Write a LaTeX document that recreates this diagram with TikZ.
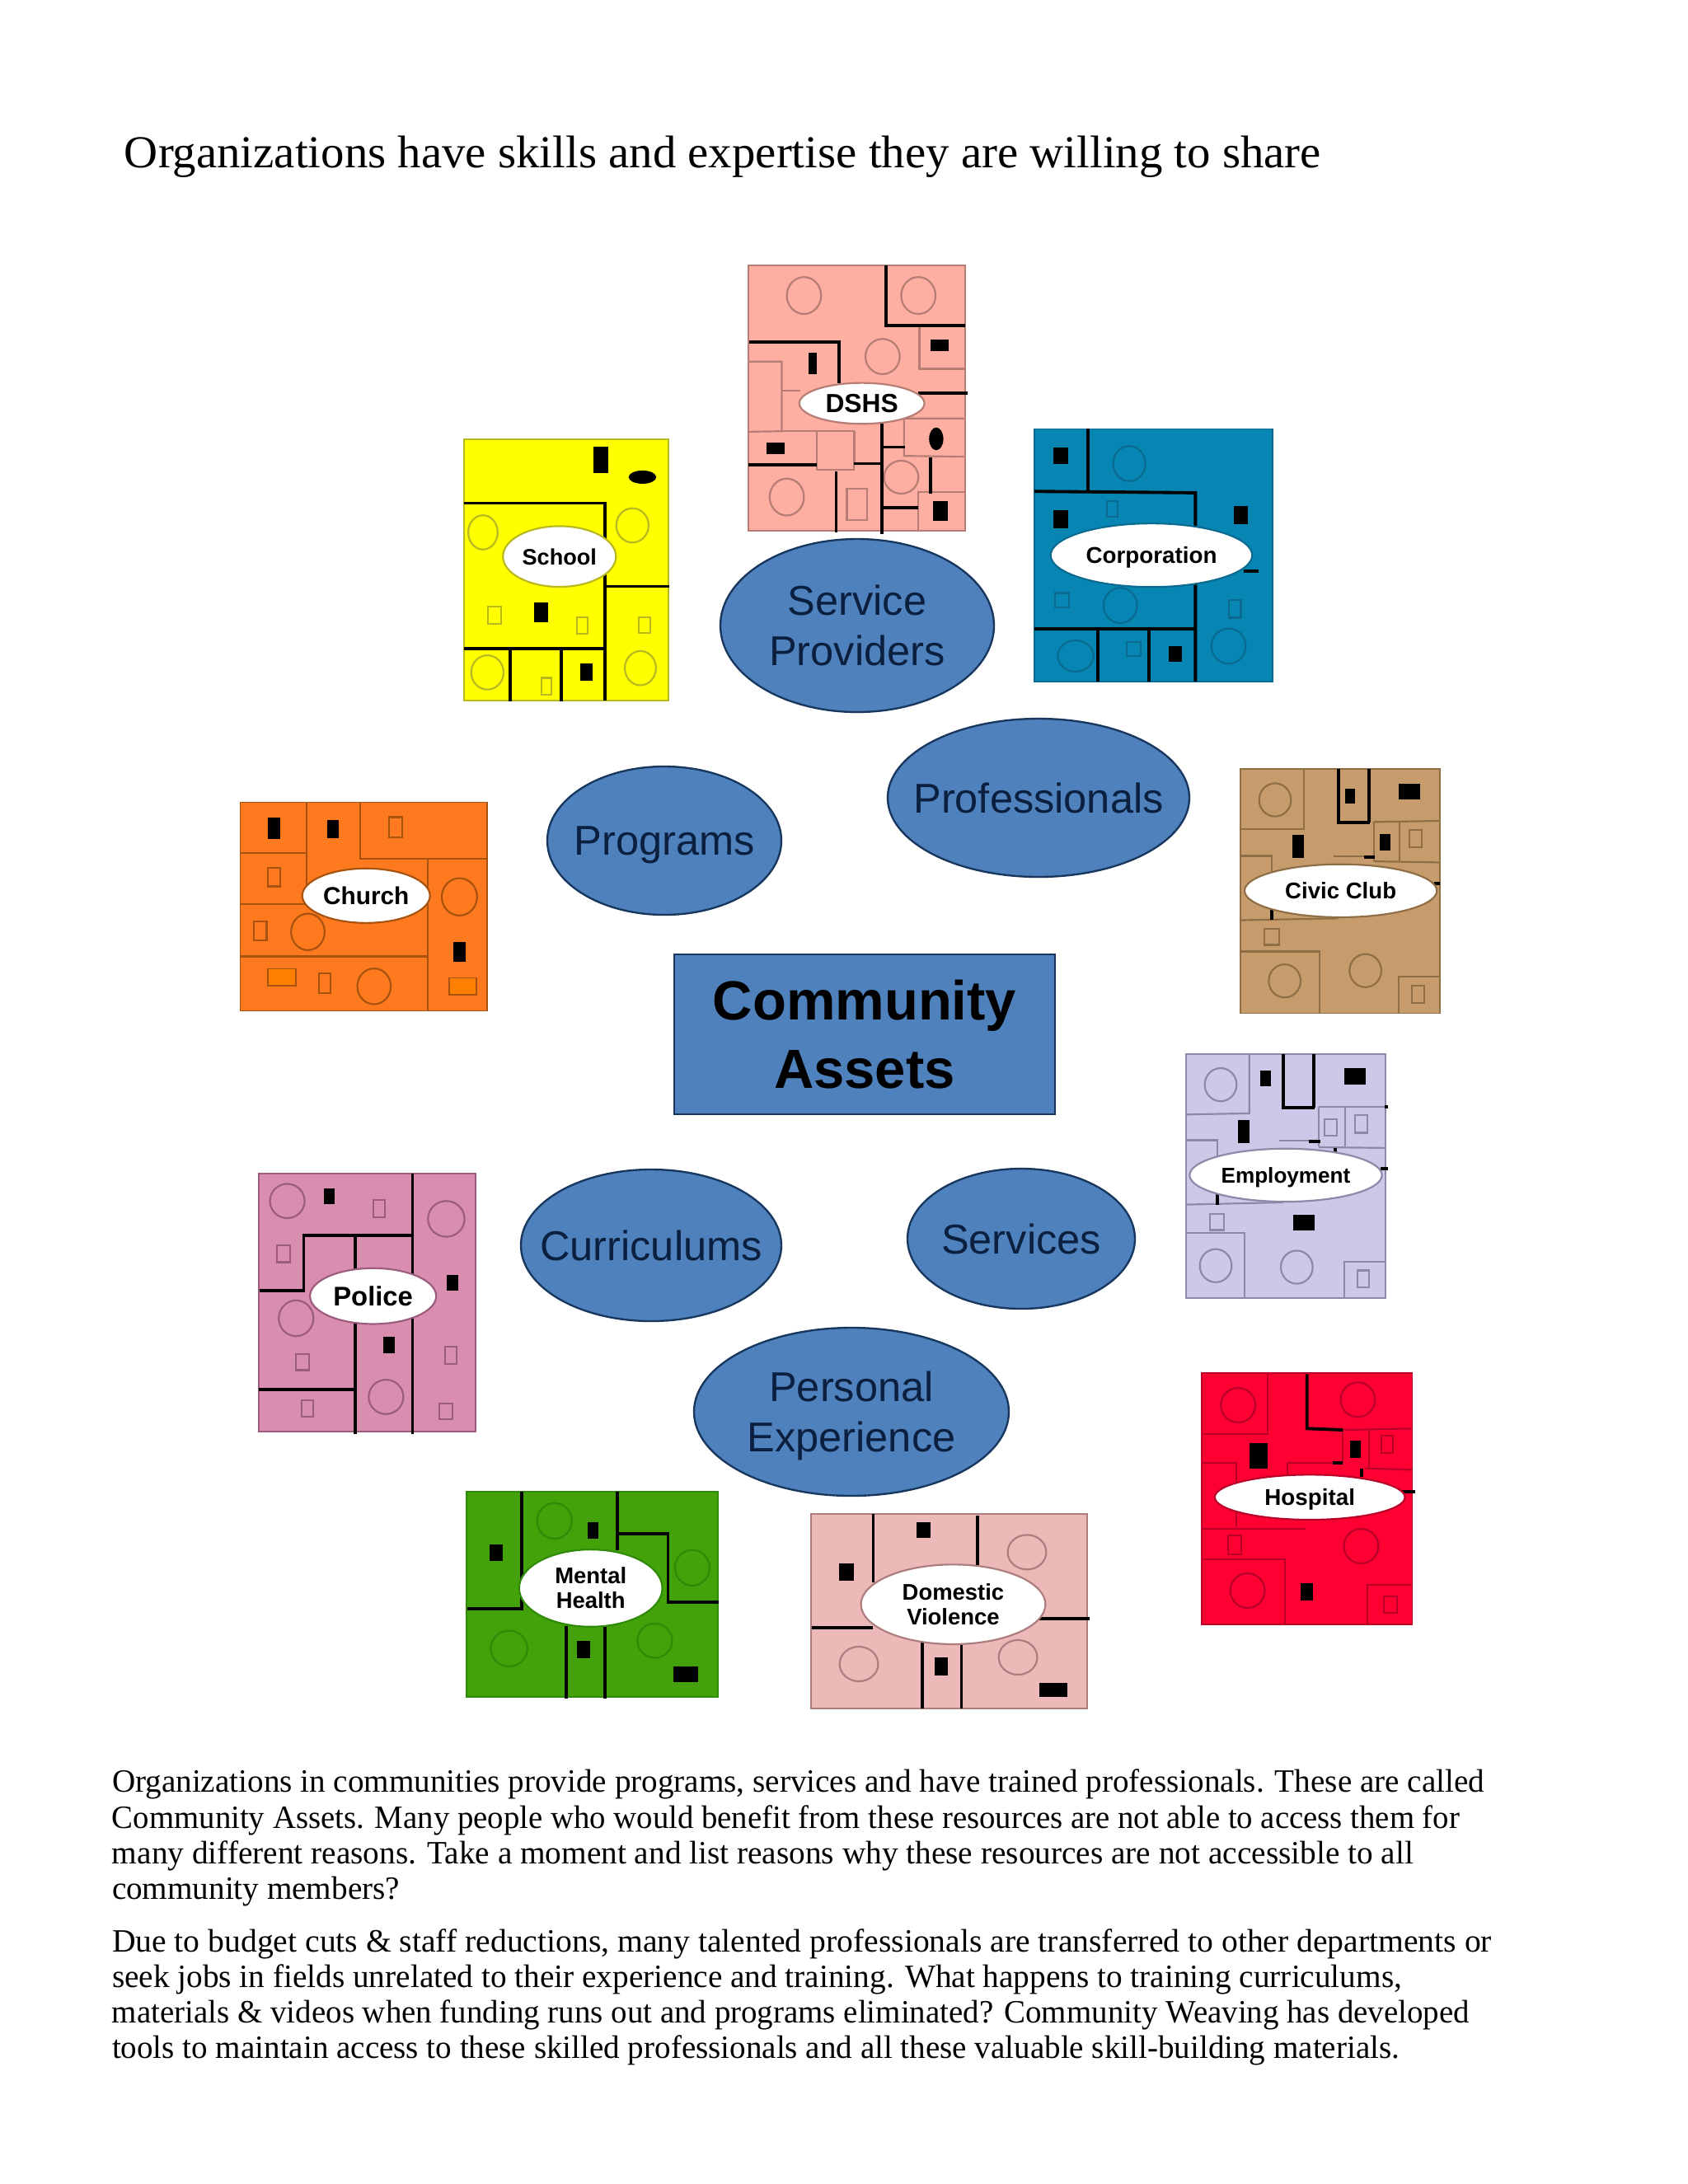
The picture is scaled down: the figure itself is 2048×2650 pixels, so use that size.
\documentclass[tikz,border=0pt]{standalone}
\usepackage{fontspec}
\usepackage{graphicx}
\setmainfont{Liberation Serif}
\newfontfamily\arialf{Liberation Sans}
\newsavebox\fitbox
\newcommand\fitline[2]{\sbox\fitbox{#2}\pgfmathsetmacro\fitr{#1*0.2988/\wd\fitbox}\scalebox{\fitr}[1]{\usebox\fitbox}}
\definecolor{tint}{HTML}{808080}
\definecolor{blueF}{HTML}{4F81BD}
\definecolor{blueL}{HTML}{17375E}
\definecolor{blueT}{HTML}{0B1F3F}
\tikzset{
 za/.style={shift={(880,300)},x=0.12959pt,y=-0.10291pt},
 zb/.style={shift={(270,510)},x=0.10668pt,y=-0.14103pt},
 zc/.style={shift={(1400,900)},x=0.09960pt,y=-0.13339pt},
 zd/.style={shift={(290,1400)},x=0.11435pt,y=-0.12959pt},
 ze/.style={shift={(960,1640)},x=0.14862pt,y=-0.09960pt},
 tn/.style={draw=tint,line width=0.65pt},
 wl/.style={draw=black,line width=1.15pt},
 blobout/.style={fill=blueF,draw=blueL,line width=0.7pt},
 blobtext/.style={inner sep=0pt,align=center,text=blueT,text depth=0pt,
   font=\arialf\fontsize{15.1}{18.2}\selectfont},
 bodyline/.style={anchor=base west,inner sep=0pt,outer sep=0pt,font=\fontsize{11.8}{13}\selectfont},
 labtext/.style={inner sep=0pt,align=center,text=black,text depth=0pt},
}
\newcommand\crc[4]{\draw[tn] (#1,#2) ellipse [x radius=#3,y radius=#4];}
\newcommand\sqr[4]{\draw[tn] (#1,#2) rectangle (#3,#4);}
\newcommand\blkr[4]{\fill[black] (#1,#2) rectangle (#3,#4);}
\newcommand\lab[7]{\draw[tn,fill=white] (#2,#3) ellipse [x radius=#4,y radius=#5];
  \node[labtext,font=\arialf\bfseries\fontsize{#6}{9}\selectfont] (#1) at (#2,#3) {#7};}
\newcommand\blobn[6]{\draw[blobout] (#2,#3) ellipse [x radius=#4,y radius=#5];
  \node[blobtext] (#1) at (#2,#3) {#6};}
\begin{document}
\begin{tikzpicture}[x=0.2988pt,y=-0.2988pt]
\useasboundingbox (0,0) rectangle (2048,2650);
\fill[white] (0,0) rectangle (2048,2650);

% ---- DSHS
\begin{scope}[za]
\definecolor{tint}{HTML}{B57D74}
\fill[fill={rgb,255:red,255;green,174;blue,162},draw=tint,line width=.55pt] (65,65) rectangle (670,1000);
\crc{220}{170}{48}{65}\crc{540}{170}{48}{65}\crc{440}{385}{48}{62}\crc{172}{880}{48}{65}\crc{492}{810}{48}{58}
\sqr{543}{275}{670}{428}
\draw[tn] (65,403)--(158,403)--(158,648)--(65,650);
\draw[tn] (158,505)--(210,505);
\draw[tn] (158,648)--(362,648);
\sqr{255}{648}{360}{785}
\draw[tn] (362,648)--(362,760);
\draw[tn] (668,603)--(500,603)--(500,735)--(668,738);
\sqr{340}{850}{397}{960}
\draw[tn] (668,862)--(540,862)--(540,1000);
\draw[wl] (450,65)--(450,275)--(672,275);
\draw[wl] (68,335)--(318,335)--(318,480);
\draw[wl] (540,515)--(678,515);
\draw[wl] (65,767)--(255,767);
\draw[wl] (360,762)--(438,762);
\draw[wl] (310,790)--(310,1005);
\draw[wl] (438,620)--(438,1010);
\draw[wl] (440,704)--(502,704);
\draw[wl] (575,740)--(575,868);
\draw[wl] (440,918)--(540,918);
\blkr{575}{325}{625}{365}\blkr{232}{372}{256}{448}\blkr{115}{688}{165}{728}\blkr{582}{893}{622}{965}
\fill[black] (590,675) ellipse [x radius=20,y radius=40];
\lab{dshs}{382}{550}{175}{72}{9.5}{DSHS}
\end{scope}

% ---- Corporation
\begin{scope}[za]
\definecolor{tint}{HTML}{0A6A90}
\fill[fill={rgb,255:red,7;green,134;blue,180},draw=tint,line width=.55pt] (865,640) rectangle (1530,1530);
\crc{1130}{762}{45}{62}\crc{1105}{1262}{47}{62}\crc{980}{1440}{50}{55}\crc{1408}{1405}{48}{62}
\sqr{1068}{895}{1098}{950}\sqr{922}{1218}{962}{1270}\sqr{1408}{1243}{1442}{1305}\sqr{1122}{1390}{1162}{1440}
\draw[wl] (1015,640)--(1015,860);
\draw[wl] (865,860)--(1315,865)--(1315,1530);
\draw[wl] (865,1345)--(1315,1345);
\draw[wl] (1042,1345)--(1042,1530);
\draw[wl] (1185,1345)--(1185,1530);
\draw[wl] (1450,1140)--(1492,1140);
\blkr{918}{705}{960}{765}\blkr{918}{925}{958}{990}\blkr{1422}{912}{1462}{975}\blkr{1240}{1405}{1277}{1460}
\lab{corp}{1192}{1085}{282}{112}{8.3}{Corporation}
\end{scope}

% ---- School
\begin{scope}[zb]
\definecolor{tint}{HTML}{B8B820}
\fill[fill={rgb,255:red,255;green,255;blue,0},draw=tint,line width=.55pt] (820,48) rectangle (1515,720);
\crc{885}{288}{50}{44}\crc{1393}{270}{55}{44}\crc{900}{648}{55}{44}\crc{1420}{637}{53}{44}
\sqr{902}{478}{947}{524}\sqr{1204}{506}{1240}{548}\sqr{1415}{506}{1453}{547}\sqr{1083}{662}{1118}{705}
\draw[wl] (820,213)--(1300,213)--(1300,720);
\draw[wl] (1300,427)--(1518,427);
\draw[wl] (820,587)--(1300,587);
\draw[wl] (977,587)--(977,722);
\draw[wl] (1152,587)--(1152,722);
\blkr{1260}{68}{1312}{135}\blkr{1058}{468}{1107}{520}\blkr{1215}{625}{1257}{670}
\fill[black] (1427,146) ellipse [x radius=47,y radius=17];
\lab{school}{1145}{350}{192}{78}{8.1}{School}
\end{scope}

% ---- Church
\begin{scope}[zb]
\definecolor{tint}{HTML}{A8520F}
\fill[fill={rgb,255:red,255;green,122;blue,31},draw=tint,line width=.55pt] (60,982) rectangle (898,1518);
\draw[tn] (285,982)--(285,1240);
\draw[tn] (62,1112)--(285,1112);
\draw[tn] (468,982)--(468,1127)--(898,1127);
\draw[tn] (62,1243)--(280,1243);
\draw[tn] (697,1127)--(697,1518);
\draw[tn] (62,1378)--(697,1378);
\crc{805}{1225}{60}{48}\crc{290}{1315}{57}{47}\crc{515}{1455}{57}{46}
\sqr{565}{1020}{610}{1072}\sqr{153}{1150}{197}{1198}\sqr{107}{1288}{150}{1336}\sqr{327}{1422}{367}{1472}
\fill[fill={rgb,255:red,255;green,128;blue,0},draw=tint,line width=.55pt] (155,1410) rectangle (250,1453);
\fill[fill={rgb,255:red,255;green,128;blue,0},draw=tint,line width=.55pt] (770,1433) rectangle (863,1477);
\blkr{153}{1022}{195}{1077}\blkr{355}{1028}{395}{1075}\blkr{783}{1342}{825}{1392}
\lab{church}{488}{1222}{217}{70}{8.9}{Church}
\end{scope}

% ---- Civic Club
\begin{scope}[zc]
\definecolor{tint}{HTML}{8F6E45}
\fill[fill={rgb,255:red,198;green,156;blue,109},draw=tint,line width=.55pt] (315,73) rectangle (1042,738);
\draw[tn] (545,73)--(545,238)--(315,238);
\draw[tn] (315,310)--(430,310)--(430,480);
\draw[tn] (315,485)--(670,480);
\draw[tn] (315,570)--(603,570)--(603,738);
\draw[tn] (890,738)--(890,638)--(1042,638);
\draw[tn] (800,218)--(1042,215);
\draw[tn] (800,218)--(800,325);
\draw[tn] (893,218)--(893,325);
\draw[tn] (800,325)--(1042,328);
\draw[tn] (655,312)--(800,312);
\crc{441}{158}{58}{45}\crc{770}{622}{58}{45}\crc{476}{650}{58}{45}
\sqr{930}{240}{975}{287}\sqr{403}{508}{456}{552}\sqr{940}{663}{983}{710}
\draw[wl] (672,73)--(672,220)--(785,220);
\draw[wl] (782,73)--(782,220);
\draw[wl] (765,313)--(803,313);
\draw[wl] (1020,385)--(1042,385);
\draw[wl] (430,450)--(430,483);
\blkr{697}{127}{733}{168}\blkr{890}{115}{968}{157}\blkr{822}{250}{862}{296}\blkr{505}{253}{545}{315}
\lab{civic}{680}{405}{350}{72}{8.25}{Civic Club}
\end{scope}

% ---- Employment
\begin{scope}[zc]
\definecolor{tint}{HTML}{8E88A8}
\fill[fill={rgb,255:red,206;green,200;blue,232},draw=tint,line width=.55pt] (117,848) rectangle (843,1512);
\draw[tn] (347,848)--(347,1010)--(117,1013);
\draw[tn] (117,1083)--(232,1083)--(232,1255);
\draw[tn] (117,1258)--(470,1252);
\draw[tn] (117,1335)--(330,1335)--(330,1512);
\draw[tn] (692,1512)--(692,1413)--(843,1413);
\draw[tn] (600,992)--(843,992);
\draw[tn] (600,992)--(600,1100);
\draw[tn] (695,992)--(695,1100);
\draw[tn] (600,1102)--(843,1104);
\draw[tn] (455,1085)--(600,1085);
\crc{243}{932}{58}{45}\crc{225}{1424}{58}{45}\crc{520}{1428}{58}{45}
\sqr{622}{1025}{665}{1070}\sqr{732}{1015}{778}{1063}\sqr{205}{1283}{255}{1327}\sqr{742}{1437}{783}{1483}
\draw[wl] (472,848)--(472,995)--(585,995);
\draw[wl] (583,848)--(583,995);
\draw[wl] (840,993)--(853,993);
\draw[wl] (563,1087)--(607,1087);
\draw[wl] (825,1160)--(853,1160);
\draw[wl] (232,1230)--(232,1258);
\draw[wl] (660,1105)--(660,1115);
\blkr{388}{893}{425}{936}\blkr{692}{888}{770}{932}\blkr{305}{1027}{347}{1090}\blkr{507}{1285}{585}{1328}
\lab{employ}{480}{1178}{350}{72}{7.8}{Employment}
\end{scope}

% ---- Police
\begin{scope}[zd]
\definecolor{tint}{HTML}{9C5C7C}
\fill[fill={rgb,255:red,217;green,142;blue,175},draw=tint,line width=.55pt] (62,55) rectangle (750,777);
\crc{153}{132}{55}{48}\crc{657}{182}{58}{50}\crc{181}{460}{55}{50}\crc{466}{680}{55}{48}
\sqr{425}{130}{463}{178}\sqr{120}{255}{162}{303}\sqr{180}{560}{222}{605}\sqr{653}{540}{690}{588}\sqr{198}{690}{236}{735}\sqr{635}{698}{677}{742}
\draw[wl] (550,55)--(550,785);
\draw[wl] (65,382)--(205,382)--(205,228)--(550,228);
\draw[wl] (368,228)--(368,785);
\draw[wl] (62,660)--(368,660);
\blkr{268}{97}{303}{140}\blkr{658}{340}{695}{383}\blkr{458}{512}{495}{558}
\lab{police}{425}{398}{200}{78}{9.8}{Police}
\end{scope}

% ---- Mental Health
\begin{scope}[zd]
\definecolor{tint}{HTML}{2F8A08}
\fill[fill={rgb,255:red,67;green,161;blue,10},draw=tint,line width=.55pt] (722,945) rectangle (1518,1520);
\crc{1000}{1027}{55}{50}\crc{1437}{1158}{55}{50}\crc{856}{1384}{58}{50}\crc{1318}{1362}{55}{48}
\draw[wl] (897,945)--(897,1272)--(725,1272);
\draw[wl] (1200,945)--(1200,1110);
\draw[wl] (1205,1062)--(1360,1062)--(1360,1255)--(1522,1255);
\draw[wl] (1038,1320)--(1038,1525);
\draw[wl] (1160,1320)--(1160,1525);
\blkr{795}{1092}{835}{1140}\blkr{1105}{1030}{1140}{1077}\blkr{1072}{1363}{1113}{1412}\blkr{1378}{1435}{1455}{1478}
\lab{mental}{1115}{1215}{227}{108}{8.2}{Mental\\Health}
\end{scope}

% ---- Domestic Violence
\begin{scope}[ze]
\definecolor{tint}{HTML}{AD7D7D}
\fill[fill={rgb,255:red,237;green,184;blue,184},draw=tint,line width=.55pt] (48,590) rectangle (722,1300);
\crc{575}{730}{47}{63}\crc{165}{1137}{47}{63}\crc{553}{1113}{47}{63}
\draw[wl] (200,590)--(200,840);
\draw[wl] (455,597)--(455,790);
\draw[wl] (50,1005)--(200,1005);
\draw[wl] (605,972)--(728,972);
\draw[wl] (320,1060)--(320,1300);
\draw[wl] (415,1065)--(415,1300);
\blkr{305}{620}{340}{677}\blkr{116}{770}{152}{835}\blkr{350}{1113}{382}{1178}\blkr{605}{1207}{673}{1258}
\lab{domestic}{395}{920}{225}{145}{8.2}{Domestic\\Violence}
\end{scope}

% ---- Hospital
\begin{scope}[ze]
\definecolor{tint}{HTML}{B80028}
\fill[fill={rgb,255:red,255;green,0;blue,51},draw=tint,line width=.55pt] (1002,78) rectangle (1515,992);
\draw[tn] (1162,82)--(1162,300)--(1002,300);
\draw[tn] (1002,405)--(1085,405)--(1085,640);
\draw[tn] (1002,645)--(1255,645);
\draw[tn] (1002,755)--(1205,755)--(1205,992);
\draw[tn] (1405,992)--(1405,850)--(1515,850);
\draw[tn] (1345,285)--(1515,280);
\draw[tn] (1345,285)--(1345,405);
\draw[tn] (1410,280)--(1410,425);
\draw[tn] (1210,450)--(1210,405)--(1320,405);
\draw[tn] (1400,425)--(1515,430);
\crc{1090}{195}{42}{63}\crc{1382}{175}{42}{63}\crc{1390}{708}{42}{63}\crc{1113}{870}{42}{63}
\sqr{1440}{305}{1468}{370}\sqr{1065}{670}{1097}{738}\sqr{1445}{890}{1477}{952}
\draw[wl] (1258,82)--(1258,280)--(1345,285);
\draw[wl] (1320,405)--(1345,405);
\draw[wl] (1490,510)--(1522,510);
\draw[wl] (1392,425)--(1392,455);
\blkr{1118}{332}{1162}{425}\blkr{1363}{325}{1390}{388}\blkr{1243}{843}{1272}{905}
\lab{hospital}{1265}{530}{232}{82}{8.3}{Hospital}
\end{scope}

% ---- Blue shapes
\blobn{service}{1040}{759}{166}{105}{Service\\Providers}
\blobn{programs}{806}{1020}{142}{90}{Programs}
\blobn{prof}{1260}{968}{183}{96}{Professionals}
\blobn{curr}{790}{1511}{158}{92}{Curriculums}
\blobn{services}{1239}{1503}{138}{85}{Services}
\blobn{personal}{1033}{1713}{191}{102}{Personal\\Experience}
\node[rectangle,fill=blueF,draw=blueL,line width=0.8pt,inner sep=0pt,align=center,text=black,
  minimum width=462*0.2988pt,minimum height=194*0.2988pt,
  font=\arialf\bfseries\fontsize{20}{24.8}\selectfont] (assets) at (1049,1255) {Community\\Assets};

% ---- Text
\node[bodyline,font=\fontsize{16.6}{18}\selectfont] (title) at (151,203) {\fitline{1452}{Organizations have skills and expertise they are willing to share}};
\node[bodyline] (p1a) at (136,2174) {\fitline{1665}{Organizations in communities provide programs, services and have trained professionals. These are called}};
\node[bodyline] (p1b) at (136,2218) {\fitline{1635}{Community Assets. Many people who would benefit from these resources are not able to access them for}};
\node[bodyline] (p1c) at (136,2261) {\fitline{1579}{many different reasons. Take a moment and list reasons why these resources are not accessible to all}};
\node[bodyline] (p1d) at (136,2304) {\fitline{349}{community members?}};
\node[bodyline] (p2a) at (136,2368) {\fitline{1674}{Due to budget cuts \& staff reductions, many talented professionals are transferred to other departments or}};
\node[bodyline] (p2b) at (136,2411) {\fitline{1565}{seek jobs in fields unrelated to their experience and training. What happens to training curriculums,}};
\node[bodyline] (p2c) at (136,2454) {\fitline{1647}{materials \& videos when funding runs out and programs eliminated? Community Weaving has developed}};
\node[bodyline] (p2d) at (136,2497) {\fitline{1562}{tools to maintain access to these skilled professionals and all these valuable skill-building materials.}};
\end{tikzpicture}
\end{document}
